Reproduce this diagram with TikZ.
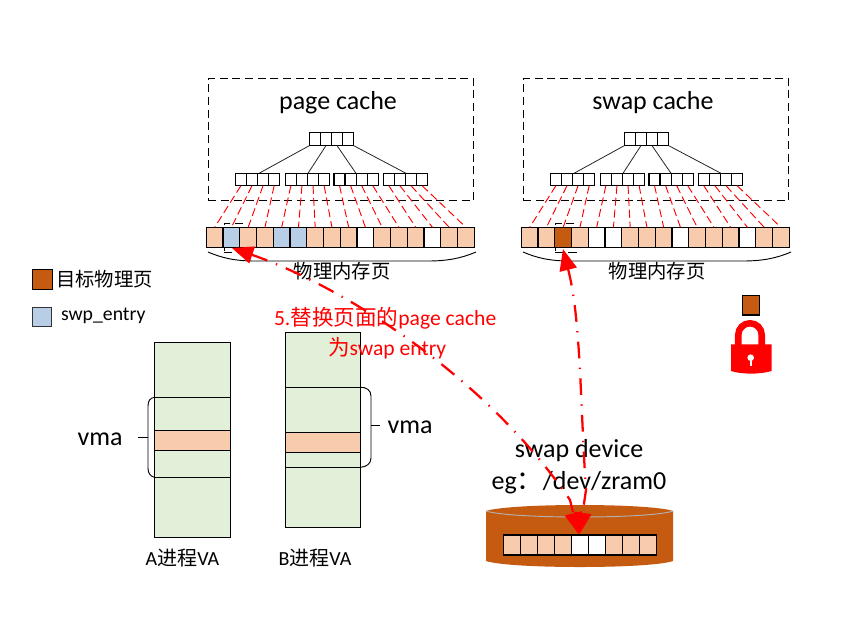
\documentclass[tikz,border=0pt]{standalone}
\usepackage{fontspec}
\setmainfont{Carlito}
\newfontfamily\cjk{Noto Sans CJK SC}
\usetikzlibrary{arrows.meta}

\definecolor{peach}{RGB}{248,203,173}
\definecolor{rust}{RGB}{197,90,17}
\definecolor{skyb}{RGB}{184,205,230}
\definecolor{vagreen}{RGB}{226,240,217}

\tikzset{
  every picture/.style={line width=0.75pt},
  tree/.style={draw=black,line width=0.9pt,fill=white,minimum width=8.3pt,minimum height=10pt,inner sep=0pt,outer sep=0pt},
  mem/.style={draw=black,line width=0.9pt,minimum width=12.56pt,minimum height=15pt,inner sep=0pt,outer sep=0pt},
  dev/.style={draw=black,line width=0.9pt,minimum width=12.75pt,minimum height=15pt,inner sep=0pt,outer sep=0pt},
  link/.style={draw=black!85,line width=0.6pt},
  pagemap/.style={draw=red,line width=0.7pt,dash pattern=on 6pt off 3pt},
  dashbox/.style={draw=black,line width=0.7pt,dash pattern=on 6pt off 3.5pt,inner sep=0pt},
  flow/.style={draw=red,line width=1.7pt,dash pattern=on 12.5pt off 7pt on 1pt off 7pt,
    {Triangle[length=16pt,width=13pt]}-{Triangle[length=16pt,width=13pt]}},
  lbl/.style={inner sep=0pt,outer sep=0pt,align=center},
  big/.style={font=\fontsize{19.5}{23}\selectfont},
  brace/.style={draw=black,line width=0.7pt},
}

\begin{document}
\begin{tikzpicture}[x=0.75pt,y=0.75pt,yscale=-1,xscale=1]
\useasboundingbox (0,0) rectangle (843,619);

% cache panels
\foreach \off/\pre/\title in {0/L/page cache,315/R/swap cache}{
\begin{scope}[xshift=\off*0.75pt]
  \node[dashbox,minimum width=199.2pt,minimum height=91.2pt] (\pre box) at (341,139.2) {};
  \node[lbl,big] (\pre title) at (338,103) {\title};
  \node[lbl,font=\cjk\fontsize{14.5}{17}\selectfont] (\pre mname) at (342,271) {物理内存页};
  % radix tree
  \foreach \i in {1,2,3,4}
    \node[tree] (\pre top\i) at ({309.3+(\i-0.5)*11.1},139) {};
  \foreach \g/\gx/\hx in {1/235.3/259,2/285.3/308,3/334/356,4/383.3/406}{
    \foreach \i in {1,2,3,4}
      \node[tree,minimum height=9.4pt] (\pre kid\g-\i) at ({\gx+(\i-0.5)*11.1},179.5) {};
    \coordinate (\pre hook\g) at (\hx,173.3);
  }
  \draw[link] (\pre top1.south west) -- (\pre hook1);
  \draw[link] (\pre top2.south) -- (\pre hook2);
  \draw[link] (\pre top3.south) -- (\pre hook3);
  \draw[link] (\pre top4.south east) -- (\pre hook4);
\end{scope}
}

% highlight frames behind the page rows
\node[dashbox,minimum width=15.4pt,minimum height=21.4pt] (Lframe) at (234.3,237.7) {};
\node[dashbox,minimum width=15.4pt,minimum height=21.4pt] (Rframe) at (565.7,237.7) {};

% page rows
\foreach \i/\c in {1/peach,2/skyb,3/peach,4/peach,5/skyb,6/skyb,7/peach,8/peach,9/peach,10/white,11/peach,12/peach,13/peach,14/white,15/peach,16/peach}
  \node[mem,fill=\c] (Lmem\i) at ({206.3+(\i-0.5)*16.75},237.3) {};
\foreach \i/\c in {1/peach,2/peach,3/rust,4/peach,5/white,6/white,7/peach,8/peach,9/peach,10/white,11/peach,12/peach,13/peach,14/white,15/peach,16/peach}
  \node[mem,fill=\c] (Rmem\i) at ({521.3+(\i-0.5)*16.75},237.3) {};

% tree leaf to page mapping
\foreach \pre in {L,R}{
  \foreach \g/\base in {1/0,2/4,3/8,4/12}{
    \foreach \i in {1,2,3,4}{
      \pgfmathtruncatemacro{\n}{\base+\i}
      \draw[pagemap] (\pre kid\g-\i.south) -- (\pre mem\n.north);
    }
  }
}

% braces under page rows
\foreach \off in {0,315}{
  \draw[brace,xshift=\off*0.75pt] (208,252) .. controls (222,258) and (235,261) .. (255,261) -- (428,261) .. controls (448,261) and (462,258) .. (476,252);
}

% legend
\node[draw=black,line width=1pt,fill=rust,minimum size=15pt,inner sep=0pt] (keya) at (42.3,279.3) {};
\node[lbl,anchor=west,font=\cjk\fontsize{14.5}{17}\selectfont] (keyatext) at (56,279) {目标物理页};
\node[draw=black!80,line width=0.8pt,fill=skyb,minimum size=14.5pt,inner sep=0pt] (keyb) at (41.8,316.8) {};
\node[lbl,anchor=west,font=\fontsize{14.8}{17}\selectfont] (keybtext) at (61,316) {swp\_entry};

% process A
\node[draw=black,line width=0.8pt,fill=vagreen,minimum width=57.3pt,minimum height=146.3pt,inner sep=0pt] (vaa) at (192.5,439.8) {};
\node[draw=black,line width=0.8pt,fill=peach,minimum width=57.3pt,minimum height=14.7pt,inner sep=0pt] (vaaslot) at (192.5,440.5) {};
\coordinate (aup1) at (154.3,397.3); \coordinate (aup2) at (230.7,397.3);
\coordinate (alo1) at (154.3,477.3); \coordinate (alo2) at (230.7,477.3);
\draw[line width=0.8pt] (aup1) -- (aup2) (alo1) -- (alo2);
\draw[brace] (aup1) .. controls (150,398) and (148,401) .. (148,406) -- (148,468) .. controls (148,473) and (150,476) .. (alo1);
\coordinate (atick) at (148,437.5); \coordinate (atickend) at (138,437.5);
\draw[brace] (atick) -- (atickend);
\node[lbl,big] (vmaa) at (100,439) {vma};
\node[lbl,font=\fontsize{15}{18}\selectfont] (namea) at (182.5,558.5) {A{\cjk 进程}VA};

% process B
\node[draw=black,line width=0.8pt,fill=vagreen,minimum width=56pt,minimum height=146.3pt,inner sep=0pt] (vab) at (323,429.8) {};
\node[draw=black,line width=0.8pt,fill=peach,minimum width=56pt,minimum height=14.7pt,inner sep=0pt] (vabslot) at (323,442.5) {};
\coordinate (bup1) at (285.7,387.3); \coordinate (bup2) at (360.3,387.3);
\coordinate (blo1) at (285.7,467.3); \coordinate (blo2) at (360.3,467.3);
\draw[line width=0.8pt] (bup1) -- (bup2) (blo1) -- (blo2);
\draw[brace] (bup2) .. controls (366,387) and (371,390) .. (371,396) -- (371,458) .. controls (371,464) and (366,467) .. (blo2);
\coordinate (btick) at (371,425); \coordinate (btickend) at (380,425);
\draw[brace] (btick) -- (btickend);
\node[lbl,big] (vmab) at (410,427) {vma};
\node[lbl,font=\fontsize{15}{18}\selectfont] (nameb) at (315,558.5) {B{\cjk 进程}VA};

% swap device cylinder
\fill[rust] (486,511) -- (486,561) .. controls (510,569) and (650,569) .. (673,561) -- (673,511) .. controls (650,503) and (510,503) .. (486,511) -- cycle;
\draw[black!30,line width=0.7pt] (486,511) .. controls (510,519) and (650,519) .. (673,511);
\foreach \i/\c in {1/peach,2/peach,3/peach,4/peach,5/white,6/white,7/peach,8/peach,9/peach}
  \node[dev,fill=\c] (dev\i) at ({503.5+(\i-0.5)*17},545) {};
\node[lbl,big] (devname) at (579,451) {swap device};
\node[lbl,big] (devpath) at (579,483) {eg{\cjk ：}/dev/zram0};

% lock
\node[draw=black,line width=1pt,fill=rust,minimum width=12.5pt,minimum height=14.5pt,inner sep=0pt] (lockpage) at (751,305.3) {};
\draw[red,line width=4.9pt] (738.25,346) -- (738.25,335) arc[start angle=180,end angle=360,radius=11.75] -- (761.75,346);
\fill[red] (731,344.3) -- (771.5,344.3) -- (771.5,371) .. controls (760,374.5) and (742,374.5) .. (731,371) -- cycle;
\fill[white] (750.7,357.7) circle[radius=3.3];
\fill[white] (749.7,358) rectangle (751.7,365.5);

% red caption
\node[lbl,text=red,anchor=west,font=\fontsize{16.2}{19}\selectfont] (capa) at (274,318) {5.{\cjk 替换页面的}page cache};
\node[lbl,text=red,anchor=west,font=\fontsize{16.2}{19}\selectfont] (capb) at (328,348) {{\cjk 为}swap entry};

% swap flows
\coordinate (pageL) at (232,248);
\coordinate (pageR) at (563,249);
\coordinate (slotL) at (578.5,534);
\coordinate (slotR) at (579.5,534);
\draw[flow] (pageL) .. controls (340,285) and (485,375) .. (570,500) -- (slotL);
\draw[flow] (pageR) .. controls (581,320) and (580,400) .. (586,490) -- (slotR);
\end{tikzpicture}
\end{document}
